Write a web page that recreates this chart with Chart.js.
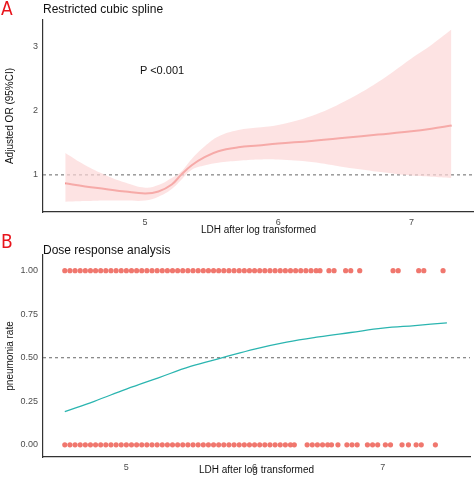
<!DOCTYPE html>
<html><head><meta charset="utf-8">
<script src="https://cdn.jsdelivr.net/npm/chart.js@4"></script>
<style>
body{margin:0;width:474px;height:480px;position:relative;background:#fff;font-family:"Liberation Sans",Arial,sans-serif;overflow:hidden}
.c{position:absolute;left:0;width:474px;height:240px}
.t{position:absolute;font-size:12px;color:#111}
.lab{position:absolute;color:#e8141c;font-size:19px;font-family:"DejaVu Sans Condensed","Liberation Sans Narrow",sans-serif}
</style></head><body>
<div class="c" style="top:0"><canvas id="a"></canvas></div>
<div class="c" style="top:240px"><canvas id="b"></canvas></div>
<div class="lab" style="left:1px;top:-3px">A</div>
<div class="lab" style="left:1px;top:230px">B</div>
<div class="t" style="left:43px;top:2px">Restricted cubic spline</div>
<div class="t" style="left:43px;top:243px">Dose response analysis</div>
<div class="t" style="left:140px;top:64px;font-size:11px">P &lt;0.001</div>
<script>
const splineX=[4.4,4.55,4.7,4.85,5.0,5.1,5.2,5.27,5.35,5.45,5.55,5.7,5.85,6.0,6.25,6.5,6.75,7.0,7.15,7.3];
const splineOR=[0.87,0.82,0.78,0.74,0.71,0.74,0.85,1.0,1.15,1.28,1.37,1.43,1.46,1.49,1.53,1.58,1.63,1.68,1.72,1.77];
const upperX=[4.4,4.55,4.7,4.85,5.0,5.1,5.2,5.27,5.35,5.45,5.55,5.7,5.85,6.0,6.25,6.5,6.75,7.0,7.15,7.3];
const upperCI=[1.34,1.15,1.0,0.88,0.8,0.84,0.95,1.05,1.25,1.45,1.6,1.7,1.74,1.78,1.92,2.15,2.45,2.82,3.03,3.27];
const lowerCI=[0.58,0.59,0.6,0.6,0.6,0.66,0.78,0.92,1.08,1.15,1.19,1.22,1.24,1.24,1.2,1.12,1.05,0.99,0.97,0.95];
const doseX=[4.52,4.75,5.0,5.25,5.5,5.75,6.0,6.25,6.5,6.75,7.0,7.25,7.5];
const doseRate=[0.19,0.25,0.32,0.385,0.45,0.5,0.55,0.59,0.62,0.645,0.67,0.685,0.70];
const pos1=[4.52,4.56,4.6,4.64,4.68,4.72,4.76,4.8,4.84,4.88,4.92,4.96,5.0,5.04,5.08,5.12,5.16,5.2,5.24,5.28,5.32,5.36,5.4,5.44,5.48,5.52,5.56,5.6,5.64,5.68,5.72,5.76,5.8,5.84,5.88,5.92,5.96,6.0,6.04,6.08,6.12,6.16,6.2,6.24,6.28,6.32,6.36,6.4,6.44,6.48,6.51,6.58,6.62,6.71,6.75,6.82,7.08,7.12,7.28,7.32,7.47];
const pos0=[4.52,4.56,4.6,4.64,4.68,4.72,4.76,4.8,4.84,4.88,4.92,4.96,5.0,5.04,5.08,5.12,5.16,5.2,5.24,5.28,5.32,5.36,5.4,5.44,5.48,5.52,5.56,5.6,5.64,5.68,5.72,5.76,5.8,5.84,5.88,5.92,5.96,6.0,6.04,6.08,6.12,6.16,6.2,6.24,6.28,6.31,6.41,6.45,6.49,6.53,6.57,6.6,6.65,6.72,6.76,6.8,6.88,6.92,6.96,7.02,7.06,7.15,7.2,7.26,7.3,7.41];
const xy=(xs,ys)=>xs.map((x,i)=>({x,y:ys[i]}));
const flat=(xs,v)=>xs.map(x=>({x,y:v}));
const tickFont={size:9,family:"Liberation Sans"};
const titleFont={size:10,family:"Liberation Sans"};
function axes(xmin,xmax,ymin,ymax,yTicks,ytitle,xh,yfmt){
 return {
  x:{type:'linear',min:xmin,max:xmax,afterBuildTicks:s=>{s.ticks=[5,6,7].map(v=>({value:v}));},
     grid:{display:false,drawTicks:true,tickLength:3,color:'#333'},border:{color:'#333',width:1.2},
     ticks:{font:tickFont,color:'#4d4d4d',padding:2},
     title:{display:true,text:'LDH after log transformed',font:titleFont,color:'#111',padding:{top:0}},
     afterFit:s=>{s.height=xh;}},
  y:{type:'linear',min:ymin,max:ymax,afterBuildTicks:s=>{s.ticks=yTicks.map(v=>({value:v}));},
     grid:{display:false,drawTicks:true,tickLength:3,color:'#333'},border:{color:'#333',width:1.2},
     ticks:{font:tickFont,color:'#4d4d4d',padding:2,callback:yfmt},
     title:{display:true,text:ytitle,font:titleFont,color:'#111',padding:{bottom:2}},
     afterFit:s=>{s.width=43;}}
 };
}
const common={responsive:true,maintainAspectRatio:false,animation:false,
 plugins:{legend:{display:false},tooltip:{enabled:false}}};
new Chart(document.getElementById('a'),{type:'line',data:{datasets:[
 {data:xy(upperX,upperCI),borderWidth:0,pointRadius:0,fill:'+1',backgroundColor:'rgba(252,215,215,0.7)',tension:0.4},
 {data:xy(upperX,lowerCI),borderWidth:0,pointRadius:0,fill:false,tension:0.4},
 {data:xy(splineX,splineOR),borderColor:'#e8413b',borderWidth:2,pointRadius:0,tension:0.4},
 {data:[{x:4.233,y:1},{x:7.47,y:1}],borderColor:'#666',borderWidth:1,borderDash:[3,3],pointRadius:0}
]},options:{...common,layout:{padding:{top:20,right:0,left:0,bottom:0}},scales:axes(4.233,7.47,0.42,3.42,[1,2,3],'Adjusted OR (95%CI)',28,v=>v)}});
new Chart(document.getElementById('b'),{type:'line',data:{datasets:[
 {data:flat(pos1,1),showLine:false,pointRadius:2.6,pointBackgroundColor:'#f0776e',pointBorderWidth:0},
 {data:flat(pos0,0),showLine:false,pointRadius:2.6,pointBackgroundColor:'#f0776e',pointBorderWidth:0},
 {data:xy(doseX,doseRate),borderColor:'#2bb5b0',borderWidth:1.3,pointRadius:0,tension:0.4},
 {data:[{x:4.35,y:0.5},{x:7.68,y:0.5}],borderColor:'#666',borderWidth:1,borderDash:[3,3],pointRadius:0}
]},options:{...common,layout:{padding:{top:15,right:0,left:0,bottom:0}},scales:axes(4.35,7.68,-0.07,1.09,[0,0.25,0.5,0.75,1],'pneumonia rate',23,v=>v.toFixed(2))}});
</script></body></html>
